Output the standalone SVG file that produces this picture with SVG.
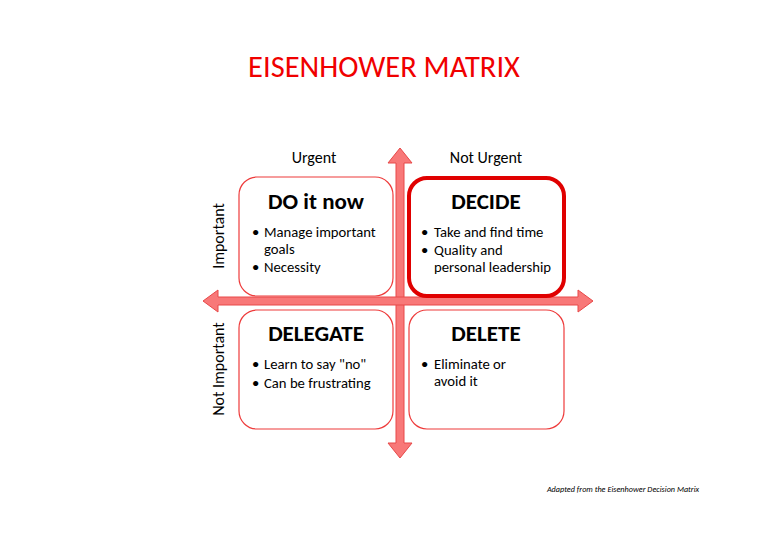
<svg xmlns="http://www.w3.org/2000/svg" width="768" height="543" viewBox="0 0 768 543">
<style>
text{font-family:Calibri,"Carlito","Liberation Sans",sans-serif;fill:#000}
.box{fill:#fff;stroke:#ee3b3b;stroke-width:1.2}
.hl{fill:#fff;stroke:#e00000;stroke-width:4}
.h{font-size:23px;font-weight:bold;text-anchor:middle}
.b{font-size:14.7px}
.ax{font-size:16px}
.arr{fill:#f87878;stroke:#e84848;stroke-width:1}
</style>
<rect width="768" height="543" fill="#fff"/>
<text x="384" y="77" text-anchor="middle" style="font-size:30.5px;fill:#f00000">EISENHOWER MATRIX</text>
<g id="connectors">
<polygon class="arr" points="396,163 396,443 388,443 400,458 412,443 404,443 404,163 412,163 400,148 388,163"/>
<polygon class="arr" points="218,297 578,297 578,290 593,301 578,312 578,305 218,305 218,312 203,301 218,290"/>
</g>
<text class="ax" x="314" y="163" text-anchor="middle">Urgent</text>
<text class="ax" x="486" y="163" text-anchor="middle">Not Urgent</text>
<text class="ax" transform="translate(224,236) rotate(-90)" text-anchor="middle">Important</text>
<text class="ax" transform="translate(224,369) rotate(-90)" text-anchor="middle">Not Important</text>
<g id="do">
<rect class="box" x="239" y="177" width="154" height="119" rx="18"/>
<text class="h" x="316" y="209">DO it now</text>
<text class="b" x="252" y="237">•</text><text class="b" x="264" y="237">Manage important</text>
<text class="b" x="264" y="254">goals</text>
<text class="b" x="252" y="272">•</text><text class="b" x="264" y="272">Necessity</text>
</g>
<g id="decide">
<rect class="hl" x="409" y="178" width="155" height="118" rx="18"/>
<text class="h" x="486" y="209">DECIDE</text>
<text class="b" x="421" y="237">•</text><text class="b" x="434" y="237">Take and find time</text>
<text class="b" x="421" y="255">•</text><text class="b" x="434" y="255">Quality and</text>
<text class="b" x="434" y="272">personal leadership</text>
</g>
<g id="delegate">
<rect class="box" x="239" y="310" width="154" height="119" rx="18"/>
<text class="h" x="316" y="341">DELEGATE</text>
<text class="b" x="252" y="369">•</text><text class="b" x="264" y="369">Learn to say "no"</text>
<text class="b" x="252" y="388">•</text><text class="b" x="264" y="388">Can be frustrating</text>
</g>
<g id="delete">
<rect class="box" x="409" y="310" width="155" height="119" rx="18"/>
<text class="h" x="486" y="341">DELETE</text>
<text class="b" x="421" y="369">•</text><text class="b" x="434" y="369">Eliminate or</text>
<text class="b" x="434" y="386">avoid it</text>
</g>
<text x="623" y="492" text-anchor="middle" style="font-size:8.2px;font-style:italic">Adapted from the Eisenhower Decision Matrix</text>
</svg>
